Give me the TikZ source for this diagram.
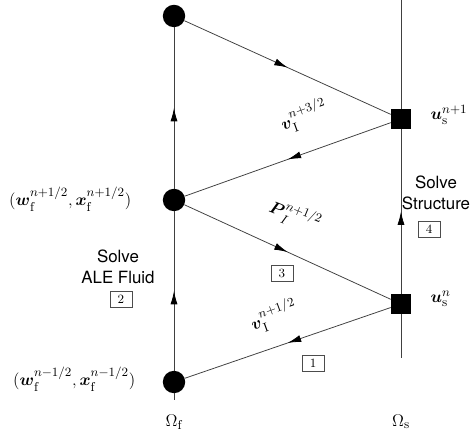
\documentclass[tikz,border=0pt]{standalone}
\usepackage{xcolor}
\usepackage{amsmath, amsfonts, amssymb}
\usepackage{fontspec}
\setsansfont{TeX Gyre Heros}
\usepackage{tikz}
\usetikzlibrary{decorations.markings, arrows.meta}

\begin{document}
\begin{tikzpicture}[x=0.025cm, y=-0.025cm, font=\fontsize{13}{15}\selectfont,
    fluid/.style={circle, fill, inner sep=0pt, minimum size=0.56cm},
    struct/.style={rectangle, fill, inner sep=0pt, minimum size=0.5cm},
    numbox/.style={draw=black!70, font=\small, inner sep=0pt, minimum width=0.54cm, minimum height=0.4cm},
    link/.style={black!75, line width=0.55pt},
    midarrow/.style={postaction={decorate}, decoration={markings, mark=at position 0.5 with {\arrow[black]{Latex[length=9.5pt, width=5pt]}}}}]
    \useasboundingbox (0, 0) rectangle (474, 432);

    \node[fluid] at (174, 16) (fnext) {};
    \node[fluid] at (174, 200) (fhalf) {};
    \node[fluid] at (174, 382) (fprev) {};
    \node[struct] at (401, 119) (snew) {};
    \node[struct] at (401, 304) (sold) {};
    \coordinate (fend) at (174, 400);
    \coordinate (stop) at (401, 0);
    \coordinate (send) at (401, 358);

    \draw[link, midarrow] (fprev) -- (fhalf);
    \draw[link, midarrow] (fhalf) -- (fnext);
    \draw[link] (fprev) -- (fend);
    \draw[link] (stop) -- (snew);
    \draw[link, midarrow] (sold) -- (snew);
    \draw[link] (sold) -- (send);

    \draw[link, midarrow] (fnext) -- (snew);
    \draw[link, midarrow] (snew) -- (fhalf);
    \draw[link, midarrow] (fhalf) -- (sold);
    \draw[link, midarrow] (sold) -- (fprev);

    \node[anchor=east, inner sep=1pt] at (133, 199) (lhalf) {$(\boldsymbol{w}_{\mathrm{f}}^{n+1/2},\boldsymbol{x}_{\mathrm{f}}^{n+1/2})$};
    \node[anchor=east, inner sep=1pt] at (137, 379) (lprev) {$(\boldsymbol{w}_{\mathrm{f}}^{n-1/2},\boldsymbol{x}_{\mathrm{f}}^{n-1/2})$};
    \node[anchor=west, inner sep=1pt] at (429, 115) (lnew) {$\boldsymbol{u}_{\mathrm{s}}^{n+1}$};
    \node[anchor=west, inner sep=1pt] at (429, 299) (lold) {$\boldsymbol{u}_{\mathrm{s}}^{n}$};

    \node[rotate=20, inner sep=1pt] at (304, 116) (vnew) {$\boldsymbol{v}_{\mathrm{I}}^{n+3/2}$};
    \node[rotate=-22, inner sep=1pt] at (295, 216) (press) {$\boldsymbol{P}_{I}^{n+1/2}$};
    \node[rotate=20, inner sep=1pt] at (274, 316) (vold) {$\boldsymbol{v}_{\mathrm{I}}^{n+1/2}$};

    \node[align=center, font=\large\sffamily] at (118, 267) (fsolve) {Solve\\[1pt]ALE Fluid};
    \node[align=center, font=\large\sffamily] at (436, 193) (ssolve) {Solve\\[1pt]Structure};

    \node[numbox] at (313, 363) (one) {1};
    \node[numbox] at (121, 299) (two) {2};
    \node[numbox] at (282, 273) (three) {3};
    \node[numbox] at (429, 229) (four) {4};

    \node at (174, 422) (omf) {$\Omega_{\mathrm{f}}$};
    \node at (401, 422) (oms) {$\Omega_{\mathrm{s}}$};
\end{tikzpicture}
\end{document}
